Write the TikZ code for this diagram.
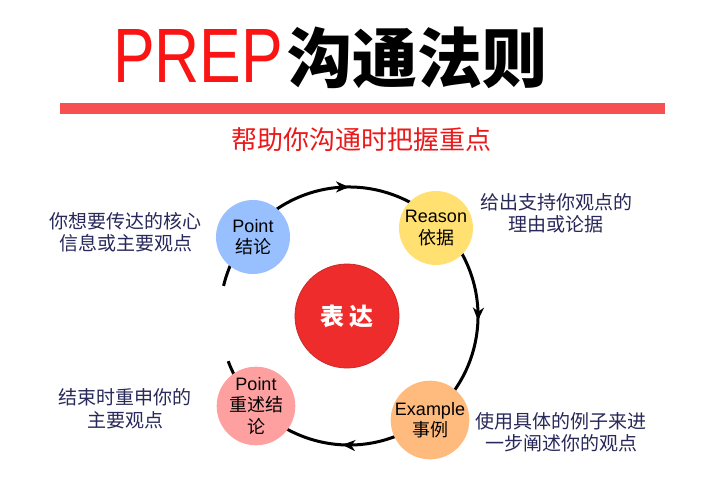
\documentclass[tikz,border=0pt]{standalone}
\usepackage{fontspec}
\setmainfont{Liberation Sans}
\newfontfamily\cjk{Noto Sans CJK SC}
\usetikzlibrary{arrows.meta,decorations.markings}
\definecolor{titlered}{RGB}{250,20,20}
\definecolor{barred}{RGB}{246,80,80}
\definecolor{subred}{RGB}{235,25,25}
\definecolor{navy}{RGB}{40,40,90}
\definecolor{ptblue}{RGB}{152,192,255}
\definecolor{reasony}{RGB}{255,224,112}
\definecolor{exampleo}{RGB}{255,186,126}
\definecolor{pointp}{RGB}{255,160,160}
\definecolor{cred}{RGB}{238,44,44}
\definecolor{credd}{RGB}{205,40,40}
\tikzset{ringtip/.tip={Stealth[length=13pt,width=11pt,inset=4pt]}}
\begin{document}
\begin{tikzpicture}[x=1pt,y=1pt,
  stage/.style={circle, minimum size=74pt, inner sep=0pt, align=center,
    font=\fontsize{18}{21.5}\selectfont, text=black},
  desc/.style={align=center, font=\cjk\fontsize{19}{22.5}\selectfont, text=navy},
  ringline/.style={line width=3pt, black}
]
\useasboundingbox (0,0) rectangle (720,-484);
\fill[white] (0,0) rectangle (720,-484);

% title
\node[anchor=base west, inner sep=0pt] (title) at (113,-83)
  {{\resizebox{170pt}{53pt}{\color{titlered}PREP}}\hspace{4pt}{\cjk\bfseries\fontsize{65}{65}\selectfont 沟通法则}};
\node[fill=barred, minimum width=605pt, minimum height=11pt, inner sep=0pt] (bar) at (362.5,-109) {};
\node[font=\cjk\fontsize{26}{30}\selectfont, text=subred] (sub) at (361,-140) {帮助你沟通时把握重点};

% ring
\coordinate (rc) at (349,-316);
\draw[ringline, postaction={decorate}, decoration={markings,
    mark=at position 0.2347 with {\arrow{ringtip}},
    mark=at position 0.517 with {\arrow{ringtip}},
    mark=at position 0.796 with {\arrow{ringtip}}}]
  (rc) ++(166.5:129) arc[start angle=166.5, end angle=-159.5, radius=129];

% stages
\node[stage, fill=ptblue] (point) at (253,-237) {Point\\{\cjk 结论}};
\node[stage, fill=reasony] (reason) at (436,-228) {Reason\\{\cjk 依据}};
\node[stage, fill=exampleo] (example) at (430,-420) {Example\\{\cjk 事例}};
\node[stage, fill=pointp] (point2) at (256,-406) {Point\\{\cjk 重述结}\\{\cjk 论}};

\node[circle, minimum size=104pt, inner sep=0pt, fill=cred, draw=credd, line width=0.8pt,
  text=white, font=\cjk\bfseries\fontsize{24}{28}\selectfont] (core) at (347,-316) {表\hspace{5pt}达};

% descriptions
\node[desc] (dpoint) at (125.5,-232.5) {你想要传达的核心\\信息或主要观点};
\node[desc] (dreason) at (556,-213.5) {给出支持你观点的\\理由或论据};
\node[desc] (dpoint2) at (125,-408.5) {结束时重申你的\\主要观点};
\node[desc] (dexample) at (561,-432) {使用具体的例子来进\\一步阐述你的观点};
\end{tikzpicture}
\end{document}
